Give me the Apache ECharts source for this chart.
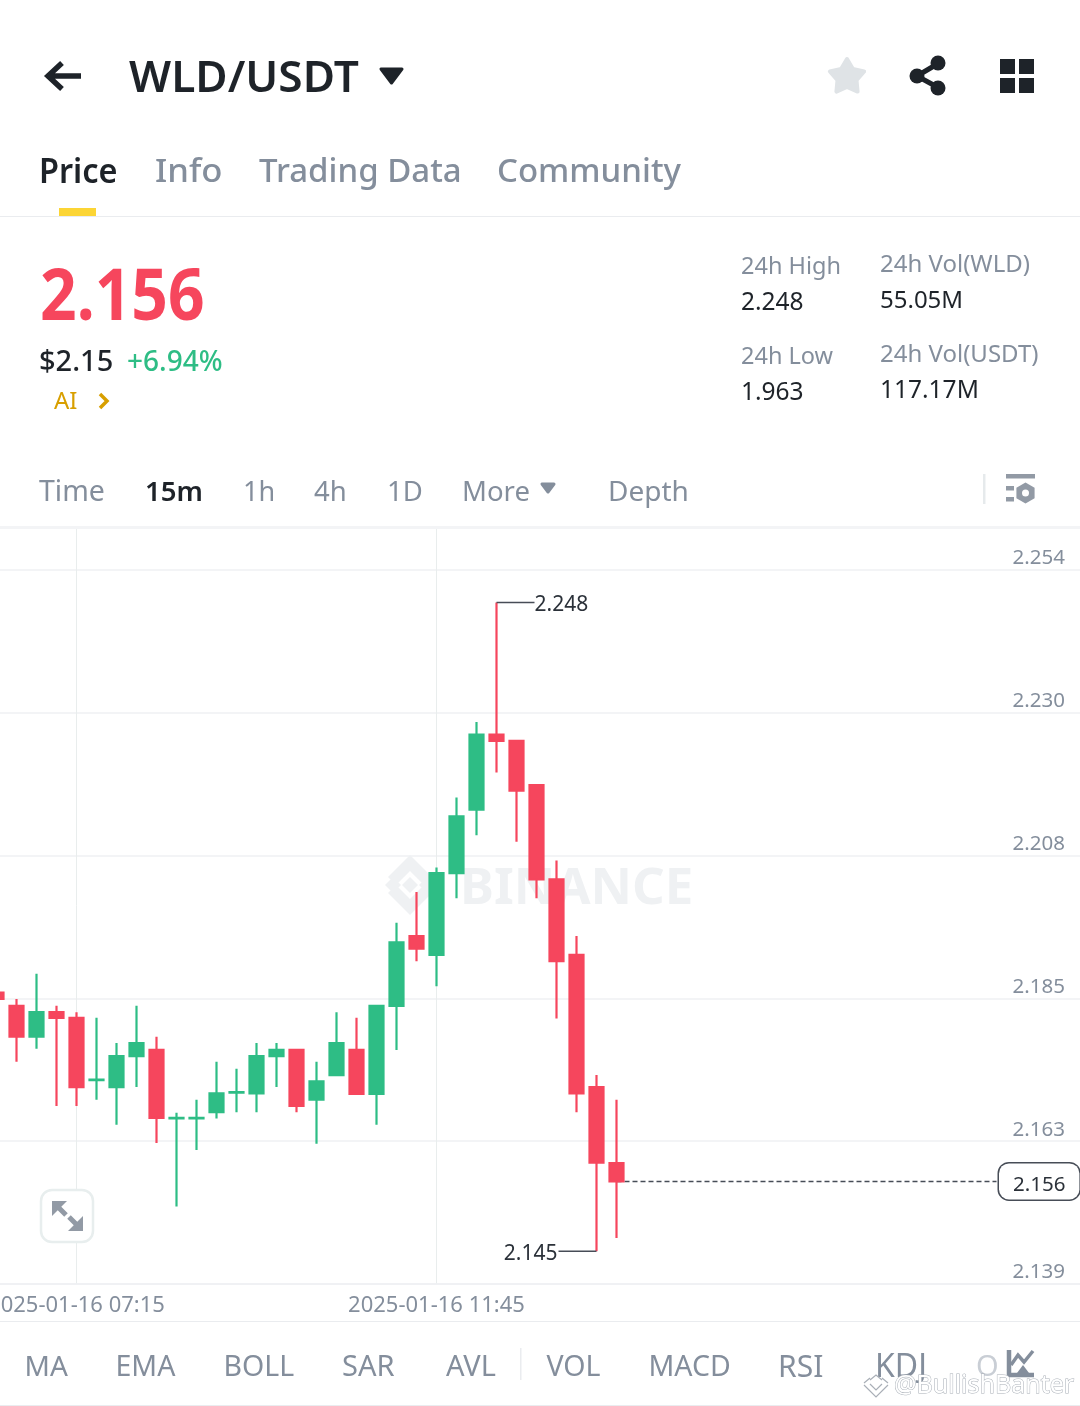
<!DOCTYPE html>
<html><head><meta charset="utf-8">
<style>html,body{margin:0;padding:0;background:#fff}#c{width:1080px;height:1406px}</style>
<script src="https://cdn.jsdelivr.net/npm/echarts@6/dist/echarts.min.js"></script>
</head><body><div id="c"></div>
<script>
const categories = [
"2025-01-16 06:15","2025-01-16 06:30","2025-01-16 06:45","2025-01-16 07:00","2025-01-16 07:15","2025-01-16 07:30","2025-01-16 07:45","2025-01-16 08:00",
"2025-01-16 08:15","2025-01-16 08:30","2025-01-16 08:45","2025-01-16 09:00","2025-01-16 09:15","2025-01-16 09:30","2025-01-16 09:45","2025-01-16 10:00",
"2025-01-16 10:15","2025-01-16 10:30","2025-01-16 10:45","2025-01-16 11:00","2025-01-16 11:15","2025-01-16 11:30","2025-01-16 11:45","2025-01-16 12:00",
"2025-01-16 12:15","2025-01-16 12:30","2025-01-16 12:45","2025-01-16 13:00","2025-01-16 13:15","2025-01-16 13:30","2025-01-16 13:45","2025-01-16 14:00",
"2025-01-16 14:15","2025-01-16 14:30","2025-01-16 14:45","2025-01-16 15:00","2025-01-16 15:15","2025-01-16 15:30","2025-01-16 15:45","2025-01-16 16:00",
"2025-01-16 16:15","2025-01-16 16:30","2025-01-16 16:45","2025-01-16 17:00","2025-01-16 17:15","2025-01-16 17:30","2025-01-16 17:45","2025-01-16 18:00",
"2025-01-16 18:15","2025-01-16 18:30","2025-01-16 18:45","2025-01-16 19:00","2025-01-16 19:15","2025-01-16 19:30","2025-01-16 19:45","2025-01-16 20:00"];
const timeLabels = ["2025-01-16 07:15","2025-01-16 11:45"];
// [open, close, low, high]
const candles = [
[2.1861,2.1851,2.1845,2.1865],
[2.1840,2.1791,2.1751,2.1851],
[2.1791,2.1830,2.1772,2.1891],
[2.1830,2.1821,2.1681,2.1840],
[2.1821,2.1711,2.1681,2.1830],
[2.1722,2.1723,2.1691,2.1821],
[2.1711,2.1760,2.1651,2.1781],
[2.1760,2.1781,2.1711,2.1840],
[2.1770,2.1662,2.1622,2.1791],
[2.1661,2.1662,2.1521,2.1670],
[2.1661,2.1662,2.1611,2.1691],
[2.1671,2.1701,2.1661,2.1751],
[2.1702,2.1703,2.1671,2.1740],
[2.1701,2.1760,2.1671,2.1781],
[2.1760,2.1770,2.1711,2.1781],
[2.1770,2.1681,2.1671,2.1770],
[2.1691,2.1720,2.1621,2.1751],
[2.1730,2.1781,2.1730,2.1830],
[2.1770,2.1700,2.1700,2.1821],
[2.1700,2.1840,2.1651,2.1840],
[2.1840,2.1941,2.1770,2.1972],
[2.1951,2.1931,2.1911,2.2021],
[2.1921,2.2051,2.1871,2.2060],
[2.2051,2.2141,2.2011,2.2171],
[2.2152,2.2271,2.2111,2.2291],
[2.2271,2.2261,2.2211,2.2481],
[2.2261,2.2182,2.2101,2.2261],
[2.2191,2.2041,2.2011,2.2191],
[2.2041,2.1911,2.1820,2.2071],
[2.1921,2.1701,2.1671,2.1951],
[2.1711,2.1591,2.1450,2.1730],
[2.1590,2.1561,2.1471,2.1691]];
const yTicks = [2.1398,2.1625,2.1852,2.2079,2.2306,2.2533];
const yTickLabels = ["2.139","2.163","2.185","2.208","2.230","2.254"];
const lastPrice = 2.1561;
const lastPriceEnd = "2025-01-16 18:45";
const highPoint = {name:"2025-01-16 12:30", value:2.2481, label:"2.248"};
const lowPoint = {name:"2025-01-16 13:45", value:2.1450, label:"2.145"};

const FONT = '"Noto Sans"', DARK='#1e2329', GRAY='#848e9c', LIGHT='#eff1f3', ICON='#929aa5';
function T(text,x,y,size,fill,weight,sx){const e={type:'text',z:60,silent:true,style:{text,x,y,fill,align:'left',verticalAlign:'middle',font:(weight||400)+' '+size+'px '+FONT}};if(sx){e.scaleX=sx;e.originX=x;e.originY=y;}return e;}
function R(x,y,w,h,fill,r,z){return {type:'rect',z:z||60,silent:true,shape:{x,y,width:w,height:h,r:r||0},style:{fill}};}
let pathCount=0;
function P(d,style,z){const name='chromePath'+(pathCount++);echarts.graphic.registerShape(name,echarts.graphic.extendPath(d));return {type:name,z:z||60,silent:true,style};}
function star(cx,cy,R1,R2){let p=[];for(let i=0;i<10;i++){const a=-Math.PI/2+i*Math.PI/5,r=i%2?R2:R1;p.push([cx+r*Math.cos(a),cy+r*Math.sin(a)]);}return p;}
function hex(cx,cy,r){let p=[];for(let i=0;i<6;i++){const a=-Math.PI/2+i*Math.PI/3;p.push([cx+r*Math.cos(a),cy+r*Math.sin(a)]);}return p;}
const chrome=[
 P('M81 76H52M62 63L48 76L62 89',{fill:'none',stroke:DARK,lineWidth:5.5}),
 T('WLD/USDT',129,79,44,DARK,600,1.005),
 {type:'polygon',z:60,silent:true,shape:{points:[[381,69],[402,69],[391.5,83]]},style:{fill:DARK,stroke:DARK,lineWidth:3,lineJoin:'round'}},
 {type:'polygon',z:60,silent:true,shape:{points:star(847,77,18,10)},style:{fill:'#dfe3e6',stroke:'#dfe3e6',lineWidth:4,lineJoin:'round'}},
 P('M917 76L939 63M917 76L939 88',{fill:'none',stroke:DARK,lineWidth:5}),
 {type:'circle',z:60,silent:true,shape:{cx:917,cy:76,r:7.5},style:{fill:DARK}},
 {type:'circle',z:60,silent:true,shape:{cx:938,cy:63,r:7.5},style:{fill:DARK}},
 {type:'circle',z:60,silent:true,shape:{cx:938,cy:88,r:7.5},style:{fill:DARK}},
 R(1000,59,15,15,DARK),R(1019,59,15,15,DARK),R(1000,78,15,15,DARK),R(1019,78,15,15,DARK),
 T('Price',39,173,33.5,DARK,600,0.97),T('Info',155,173,33,GRAY,500,1.05),T('Trading Data',259,173,33,GRAY,500),T('Community',497,173,33,GRAY,500),
 R(59,208,37,8,'#fcd535'),R(0,216,1080,1,'#eaecef'),
 T('2.156',40,299,72,'#f6465d',700,0.89),
 T('$2.15',39,363,29,DARK,500),T('+6.94%',127,363,28,'#2ebd85',500),
 T('AI',54,402,24,'#d89f00'),P('M100 394L107 401L100 408',{fill:'none',stroke:'#d89f00',lineWidth:3.5}),
 T('24h High',741,267,23.5,GRAY),T('2.248',741,303,24.5,DARK),T('24h Low',741,357,23.5,GRAY),T('1.963',741,393,24.5,DARK),
 T('24h Vol(WLD)',880,265,24,GRAY),T('55.05M',880,301,24,DARK),T('24h Vol(USDT)',880,355,24,GRAY),T('117.17M',880,391,24.5,DARK),
 T('Time',39,493,28.5,GRAY),T('15m',145,493,27.5,DARK,600),T('1h',243,493,27,GRAY),T('4h',314,493,27.5,GRAY),T('1D',387,493,27.5,GRAY),T('More',462,493,27.5,GRAY),
 {type:'polygon',z:60,silent:true,shape:{points:[[542,484],[554,484],[548,492]]},style:{fill:GRAY,stroke:GRAY,lineWidth:3,lineJoin:'round'}},
 T('Depth',608,493,28,GRAY),
 R(983,474,2.5,30,'#e6eaec'),
 R(1006,474,29,4.5,ICON),R(1006,486,8,4.5,ICON),R(1006,497,8,4.5,ICON),
 {type:'polygon',z:60,silent:true,shape:{points:hex(1025.5,493,10.5)},style:{fill:ICON}},
 {type:'circle',z:61,silent:true,shape:{cx:1025.5,cy:493,r:3.5},style:{fill:'#fff'}},
 R(0,526,1080,3,'#f3f4f6'),
 {type:'rect',z:60,silent:true,shape:{x:41,y:1190,width:52,height:52,r:11},style:{fill:'#fff',stroke:'#e8eeee',lineWidth:2.5}},
 {type:'polygon',z:61,silent:true,shape:{points:[[52,1201],[67,1201],[52,1216]]},style:{fill:ICON}},
 {type:'polygon',z:61,silent:true,shape:{points:[[83,1231],[68,1231],[83,1216]]},style:{fill:ICON}},
 P('M56 1205L66 1215M79 1227L69 1217',{fill:'none',stroke:ICON,lineWidth:5},61),
 R(0,1321,1080,1,'#eaecef'),R(0,1405,1080,1,'#eaecef'),
 T('MA',24.5,1368,28,GRAY),T('EMA',115.5,1368,28.5,GRAY),T('BOLL',223.5,1368,28.5,GRAY),T('SAR',342,1368,29,GRAY),T('AVL',446,1368,29,GRAY),
 R(520,1348,1.5,32,'#eaecef'),
 T('VOL',546.5,1368,28.5,GRAY),T('MACD',648.5,1368,28.5,GRAY),T('RSI',778,1368,30,GRAY),T('KDJ',875,1368,32,GRAY),T('O',976,1368,29,'#c9ced5'),
 P('M1009 1350V1375H1034',{fill:'none',stroke:GRAY,lineWidth:4.5}),
 P('M1011 1365L1018 1355L1024 1362L1033 1351',{fill:'none',stroke:GRAY,lineWidth:3.5}),
 {type:'polygon',z:60,silent:true,shape:{points:[[1017,1373],[1023,1365],[1029,1373]]},style:{fill:GRAY}},
 {type:'text',z:0,silent:true,style:{text:'BINANCE',x:460,y:889,fill:'#eff1f3',font:'700 51px '+FONT,verticalAlign:'middle'}},
 P('M410 855L432 877L424 885L410 871L396 885L388 877ZM385 885L393 877L401 885L393 893ZM410 877L418 885L410 893L402 885ZM419 885L427 877L435 885L427 893ZM396 885L410 899L424 885L432 893L410 915L388 893Z',{fill:'#eff1f3'},1),
 {type:'text',z:70,silent:true,style:{text:'@BullishBanter',x:894,y:1386,fill:'#ffffff',stroke:'#a9afb7',lineWidth:1,font:'400 25px '+FONT,verticalAlign:'middle'}},
 P('M870 1380L876 1375L882 1380M864 1383L870 1378M888 1383L882 1378M864 1385L876 1397L888 1385M870 1384L876 1390L882 1384',{fill:'none',stroke:'#a9afb7',lineWidth:1.2},70)
];
const chart=echarts.init(document.getElementById('c'),null,{renderer:'canvas',width:1080,height:1406});
chart.setOption({
 animation:false,backgroundColor:'#fff',
 graphic:{elements:chrome},
 grid:{left:-3.5,right:-16.5,top:527,bottom:122,containLabel:false,outerBoundsMode:'none'},
 xAxis:{type:'category',data:categories,boundaryGap:false,
  axisLine:{show:true,lineStyle:{color:LIGHT,width:1.5}},axisTick:{show:false},
  axisLabel:{interval:(i,n)=>timeLabels.includes(n),color:GRAY,fontFamily:FONT,fontSize:22,margin:11,hideOverlap:false},
  splitLine:{show:true,interval:(i,n)=>timeLabels.includes(n),lineStyle:{color:'#e9eded',width:1}}},
 yAxis:{type:'value',position:'right',min:2.1398,max:2.2601,scale:true,
  axisLine:{show:false},axisTick:{show:false,customValues:yTicks},
  axisLabel:{inside:true,customValues:yTicks,margin:31.5,color:GRAY,fontFamily:FONT,fontSize:20.5,verticalAlign:'bottom',padding:[0,0,1,0],
   formatter:v=>yTickLabels[yTicks.indexOf(v)]},
  splitLine:{show:true,lineStyle:{color:LIGHT,width:1.5}}},
 series:[
  {type:'candlestick',name:'WLD/USDT',z:3,data:candles,barWidth:15,
   itemStyle:{color:'#2ebd85',color0:'#f6465d',borderColor:'#2ebd85',borderColor0:'#f6465d',borderWidth:2.2},
   markPoint:{silent:true,animation:false,data:[
    {coord:[highPoint.name,highPoint.value],symbol:'rect',symbolSize:[38,1.5],symbolOffset:[19,0],itemStyle:{color:'#474d57'},
     label:{show:true,position:'right',distance:0,offset:[0,3],formatter:highPoint.label,color:'#2b3139',fontFamily:FONT,fontSize:21}},
    {coord:[lowPoint.name,lowPoint.value],symbol:'rect',symbolSize:[38,1.5],symbolOffset:[-19,0],itemStyle:{color:'#474d57'},
     label:{show:true,position:'left',distance:0,offset:[-1,3],formatter:lowPoint.label,color:'#2b3139',fontFamily:FONT,fontSize:21}}
   ]}},
  {type:'line',name:'Last',z:2,symbol:'none',silent:true,
   data:categories.map((c,i)=>(i>=31&&c<=lastPriceEnd)?lastPrice:null),
   lineStyle:{color:'#474d57',width:1.5,type:[5,3]},
   markPoint:{silent:true,animation:false,z:10,data:[{coord:[lastPriceEnd,lastPrice],symbol:'circle',symbolSize:1,itemStyle:{color:'transparent'},
    label:{show:true,position:'right',distance:2,offset:[0,0],formatter:'{v|'+lastPrice.toFixed(3)+'}',
     rich:{v:{color:'#2b3139',fontFamily:FONT,fontSize:20.5,lineHeight:24,padding:[8,0,0,0]}},
     backgroundColor:'#fff',borderColor:'#474d57',borderWidth:1.5,borderRadius:10,padding:[6,14,6,14]}}]}}
 ]
});
</script></body></html>
